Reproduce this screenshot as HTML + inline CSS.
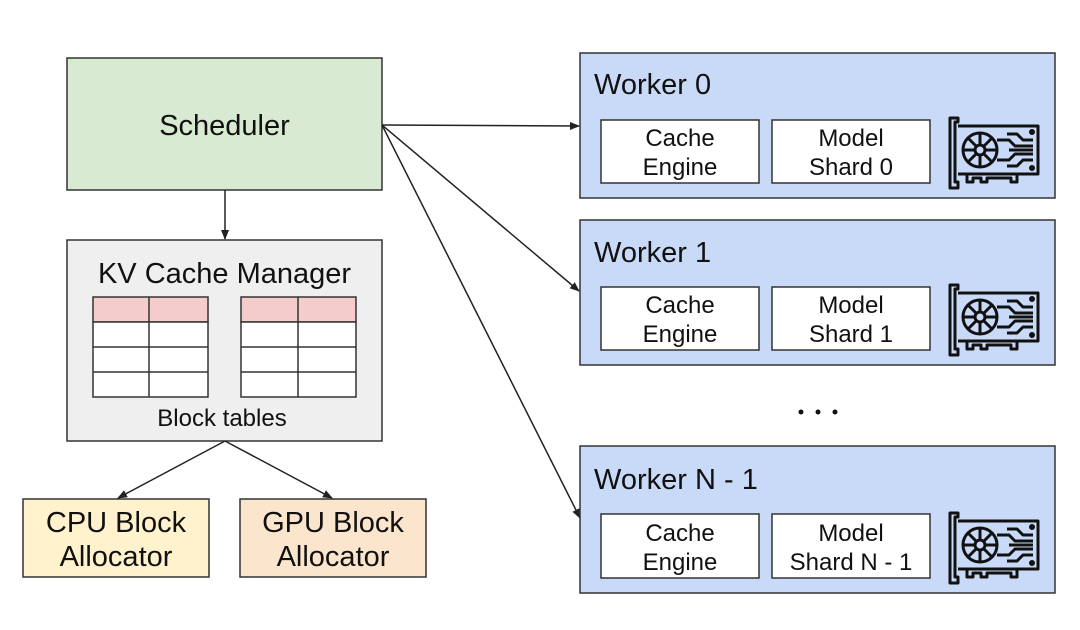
<!DOCTYPE html>
<html><head><meta charset="utf-8"><style>
html,body{margin:0;padding:0;background:#fff;}
svg{display:block;font-family:"Liberation Sans",Arial,sans-serif;}
</style></head><body>
<svg width="1080" height="630" viewBox="0 0 1080 630" xmlns="http://www.w3.org/2000/svg">
<defs>
<marker id="ah" markerWidth="10" markerHeight="10" refX="9" refY="5" orient="auto" markerUnits="userSpaceOnUse">
<path d="M0,1 L10,5 L0,9 z" fill="#222"/>
</marker>
<g id="gpu" fill="none" stroke="#111" stroke-width="3" stroke-linejoin="round">
<path d="M3,0 h8 v4 h-3 v60 h3 v6 h-8 z"/>
<path d="M11,8 h80 v48 h-80"/>
<path d="M20,56 v8 h6 v-4 h8 v4 h6 v-4 h24 v4 h6 v-8"/>
<circle cx="33" cy="32" r="17"/>
<circle cx="33" cy="32" r="5"/>
<path d="M33,15 v12 M33,37 v12 M16,32 h12 M38,32 h12 M21,20 l8,8 M37,36 l8,8 M45,20 l-8,8 M29,36 l-8,8"/>
<path d="M50,22 h12 l6,6 h18 M50,42 h12 l6,-6 h18 M62,32 h24 M60,16 h10 l6,6 h10 M60,48 h10 l6,-6 h10"/>
<circle cx="85" cy="14" r="1.5" fill="#111"/>
<circle cx="85" cy="50" r="1.5" fill="#111"/>
</g>
</defs>

<rect x="67" y="58" width="315" height="132" fill="#d9ead3" stroke="#333" stroke-width="1.5"/>
<text x="224.5" y="135" font-size="29" text-anchor="middle" fill="#111">Scheduler</text>

<rect x="67" y="240" width="315" height="201" fill="#efefef" stroke="#333" stroke-width="1.5"/>
<text x="224.5" y="283" font-size="29" text-anchor="middle" fill="#111">KV Cache Manager</text>
<g stroke="#333" stroke-width="1.5">
<rect x="93" y="297" width="115" height="25" fill="#f4cccc"/>
<rect x="93" y="322" width="115" height="75" fill="#fff"/>
<line x1="93" y1="347" x2="208" y2="347"/><line x1="93" y1="372" x2="208" y2="372"/>
<line x1="149" y1="297" x2="149" y2="397"/>
<rect x="241" y="297" width="115" height="25" fill="#f4cccc"/>
<rect x="241" y="322" width="115" height="75" fill="#fff"/>
<line x1="241" y1="347" x2="356" y2="347"/><line x1="241" y1="372" x2="356" y2="372"/>
<line x1="298" y1="297" x2="298" y2="397"/>
</g>
<text x="222" y="426" font-size="24" text-anchor="middle" fill="#111">Block tables</text>

<rect x="23" y="499" width="186" height="78" fill="#fff2cc" stroke="#333" stroke-width="1.5"/>
<text x="116" y="532" font-size="29" text-anchor="middle" fill="#111">CPU Block</text>
<text x="116" y="566" font-size="29" text-anchor="middle" fill="#111">Allocator</text>
<rect x="240" y="499" width="186" height="78" fill="#fce5cd" stroke="#333" stroke-width="1.5"/>
<text x="333" y="532" font-size="29" text-anchor="middle" fill="#111">GPU Block</text>
<text x="333" y="566" font-size="29" text-anchor="middle" fill="#111">Allocator</text>

<g stroke="#222" stroke-width="1.5" fill="none" marker-end="url(#ah)">
<line x1="225" y1="190" x2="225" y2="239"/>
<line x1="225" y1="441" x2="118" y2="498"/>
<line x1="225" y1="441" x2="332" y2="498"/>
<line x1="382" y1="125" x2="579" y2="126"/>
<line x1="382" y1="125" x2="579" y2="291"/>
<line x1="382" y1="125" x2="580" y2="518"/>
</g>

<g>
<rect x="580" y="53" width="475" height="145" fill="#c9daf8" stroke="#333" stroke-width="1.5"/>
<text x="594" y="94" font-size="29" fill="#111">Worker 0</text>
<rect x="601" y="120" width="158" height="63" fill="#fff" stroke="#333" stroke-width="1.5"/>
<text x="680" y="146" font-size="24" text-anchor="middle" fill="#111">Cache</text>
<text x="680" y="175" font-size="24" text-anchor="middle" fill="#111">Engine</text>
<rect x="772" y="120" width="158" height="63" fill="#fff" stroke="#333" stroke-width="1.5"/>
<text x="851" y="146" font-size="24" text-anchor="middle" fill="#111">Model</text>
<text x="851" y="175" font-size="24" text-anchor="middle" fill="#111">Shard 0</text>
<use href="#gpu" x="947" y="118"/>
</g>
<g>
<rect x="580" y="220" width="475" height="145" fill="#c9daf8" stroke="#333" stroke-width="1.5"/>
<text x="594" y="262" font-size="29" fill="#111">Worker 1</text>
<rect x="601" y="287" width="158" height="63" fill="#fff" stroke="#333" stroke-width="1.5"/>
<text x="680" y="313" font-size="24" text-anchor="middle" fill="#111">Cache</text>
<text x="680" y="342" font-size="24" text-anchor="middle" fill="#111">Engine</text>
<rect x="772" y="287" width="158" height="63" fill="#fff" stroke="#333" stroke-width="1.5"/>
<text x="851" y="313" font-size="24" text-anchor="middle" fill="#111">Model</text>
<text x="851" y="342" font-size="24" text-anchor="middle" fill="#111">Shard 1</text>
<use href="#gpu" x="947" y="285"/>
</g>
<g fill="#111"><circle cx="801" cy="412" r="2.5"/><circle cx="818" cy="412" r="2.5"/><circle cx="835" cy="412" r="2.5"/></g>
<g>
<rect x="580" y="446" width="475" height="147" fill="#c9daf8" stroke="#333" stroke-width="1.5"/>
<text x="594" y="489" font-size="29" fill="#111">Worker N - 1</text>
<rect x="601" y="514" width="158" height="64" fill="#fff" stroke="#333" stroke-width="1.5"/>
<text x="680" y="541" font-size="24" text-anchor="middle" fill="#111">Cache</text>
<text x="680" y="570" font-size="24" text-anchor="middle" fill="#111">Engine</text>
<rect x="772" y="514" width="158" height="64" fill="#fff" stroke="#333" stroke-width="1.5"/>
<text x="851" y="541" font-size="24" text-anchor="middle" fill="#111">Model</text>
<text x="851" y="570" font-size="24" text-anchor="middle" fill="#111">Shard N - 1</text>
<use href="#gpu" x="947" y="513"/>
</g>
</svg>
</body></html>
